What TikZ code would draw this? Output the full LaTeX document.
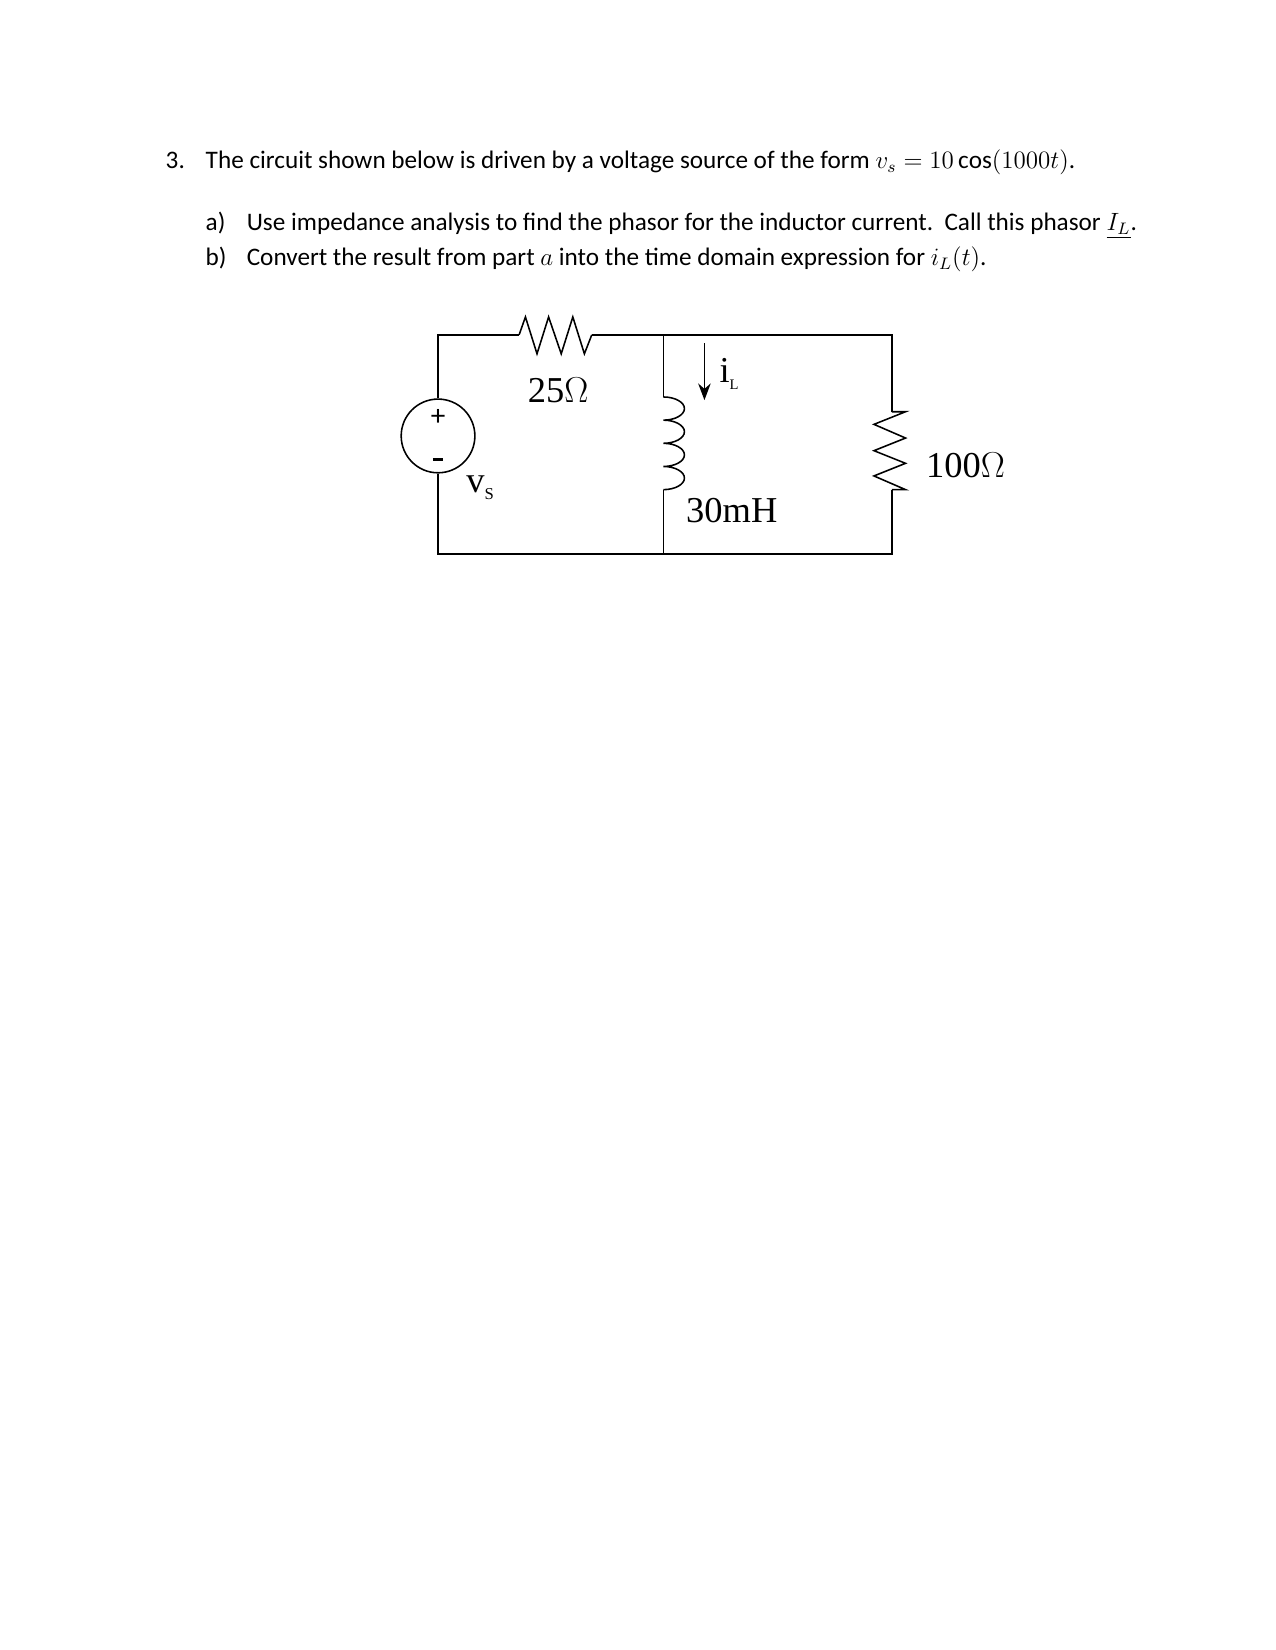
\documentclass[tikz,border=0pt]{standalone}
\usepackage{fontspec}
\setmainfont{Carlito}
\newfontfamily\tms{Liberation Serif}
\usetikzlibrary{arrows.meta,shapes.geometric}
\begin{document}
\begin{tikzpicture}[x=0.5054pt,y=-0.5054pt,
  wire/.style={line width=0.75pt},
  txt/.style={anchor=base west,inner sep=0pt,font=\fontsize{12.1}{14}\selectfont},
  lbl/.style={inner sep=0pt,font=\tms\fontsize{17.5}{20}\selectfont}]
\useasboundingbox (0,0) rectangle (1211,1567);
\node[txt] (n3) at (157,160) {3.};
\node[txt] (l1) at (195,160) {The circuit shown below is driven by a voltage source of the form $v_s = 10\cos(1000t)$.};
\node[txt] (la) at (195,219) {a)};
\node[txt] (ta) at (234,219) {Use impedance analysis to find the phasor for the inductor current.\ \ Call this phasor $\underline{I_L}$.};
\node[txt] (lb) at (195,252) {b)};
\node[txt] (tb) at (234,252) {Convert the result from part $a$ into the time domain expression for $i_L(t)$.};
% nodes
\coordinate (tl) at (416,318);
\coordinate (tm) at (630,318);
\coordinate (tr) at (847,318);
\coordinate (bl) at (416,526);
\coordinate (bm) at (630,526);
\coordinate (br) at (847,526);
\node[draw,wire,ellipse,minimum width=70*0.5054pt,minimum height=70*0.5054pt,inner sep=0pt] (src) at (416,414) {};
\node[font=\fontsize{14}{14}\selectfont,inner sep=0pt] (plus) at (416,396) {+};
\node[inner sep=0pt] (minus) at (416,436) {\rule{5pt}{1.5pt}};
\coordinate (r1a) at (493,318);
\coordinate (r1b) at (562,318);
\coordinate (la1) at (630,377);
\coordinate (la2) at (630,465);
\coordinate (r2a) at (847,391);
\coordinate (r2b) at (847,465);
% wires
\draw[wire] (src.north) -- (tl) -- (r1a);
\draw[wire] (r1a) -- (499,301) -- (510,336) -- (521,301) -- (533,336) -- (544,301) -- (555,336) -- (r1b);
\draw[wire] (r1b) -- (tm) -- (tr) -- (r2a);
\draw[wire] (r2a) -- (860,391) -- (830,403) -- (860,416) -- (830,428) -- (860,440) -- (830,452) -- (860,465) -- (r2b);
\draw[wire] (r2b) -- (br) -- (bm) -- (bl) -- (src.south);
\draw[wire] (tm) -- (la1);
\draw[wire] (la1) arc[start angle=-90,end angle=90,x radius=20,y radius=11]
  arc[start angle=-90,end angle=90,x radius=20,y radius=11]
  arc[start angle=-90,end angle=90,x radius=20,y radius=11]
  arc[start angle=-90,end angle=90,x radius=20,y radius=11];
\draw[wire] (la2) -- (bm);
\coordinate (ia) at (669,326);
\coordinate (ib) at (669,380);
\draw[wire,-{Stealth[length=8pt,width=6pt]}] (ia) -- (ib);
% labels
\node[lbl] (l25) at (530,371) {25$\Omega$};
\node[lbl] (l100) at (917,442) {100$\Omega$};
\node[lbl] (l30) at (695,485) {30mH};
\node[lbl,anchor=west] (lil) at (683,355) {i\raisebox{-0.4ex}{\scriptsize L}};
\node[lbl] (lvs) at (456,463) {v\raisebox{-0.4ex}{\footnotesize S}};
\end{tikzpicture}
\end{document}
